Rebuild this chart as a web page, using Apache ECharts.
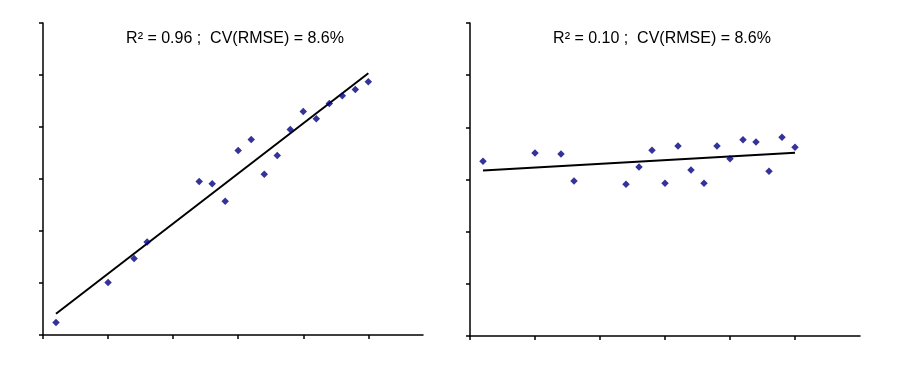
<!DOCTYPE html>
<html>
<head>
<meta charset="utf-8">
<script src="https://cdn.jsdelivr.net/npm/echarts@6/dist/echarts.min.js"></script>
<style>
  html, body { margin: 0; padding: 0; background: #fff; }
  #main { width: 912px; height: 378px; }
</style>
</head>
<body>
<div id="main"></div>
<script>
var chartDom = document.getElementById('main');
var myChart = echarts.init(chartDom);

// shared x positions (same for both panels)
var xValues = [0.2, 1.0, 1.4, 1.6, 2.4, 2.6, 2.8, 3.0, 3.2, 3.4, 3.6, 3.8, 4.0, 4.2, 4.4, 4.6, 4.8, 5.0];
// left panel: good fit
var yLeft = [0.24, 1.01, 1.47, 1.79, 2.95, 2.91, 2.57, 3.55, 3.76, 3.09, 3.45, 3.95, 4.30, 4.16, 4.45, 4.60, 4.72, 4.87];
// right panel: poor fit
var yRight = [3.35, 3.51, 3.49, 2.97, 2.91, 3.24, 3.56, 2.93, 3.64, 3.18, 2.93, 3.64, 3.40, 3.76, 3.72, 3.16, 3.81, 3.62];
var titles = ['R\u00b2 = 0.96 ;  CV(RMSE) = 8.6%', 'R\u00b2 = 0.10 ;  CV(RMSE) = 8.6%'];
var tickValues = [0, 1, 2, 3, 4, 5];

function pairs(xs, ys) {
  return xs.map(function (x, i) { return [x, ys[i]]; });
}

// least squares line through the points, drawn between first and last x
function trend(xs, ys) {
  var n = xs.length, sx = 0, sy = 0, sxx = 0, sxy = 0;
  for (var i = 0; i < n; i++) {
    sx += xs[i]; sy += ys[i]; sxx += xs[i] * xs[i]; sxy += xs[i] * ys[i];
  }
  var b = (n * sxy - sx * sy) / (n * sxx - sx * sx);
  var a = (sy - b * sx) / n;
  var x0 = Math.min.apply(null, xs), x1 = Math.max.apply(null, xs);
  return [[x0, a + b * x0], [x1, a + b * x1]];
}

var axisLine = { lineStyle: { color: '#000', width: 1.5 } };

function xAxisFor(idx, max) {
  return {
    type: 'value', gridIndex: idx, min: 0, max: max, interval: 1,
    axisLine: axisLine,
    axisTick: { customValues: tickValues, length: 4, lineStyle: { color: '#000', width: 1.5 } },
    axisLabel: { show: false },
    splitLine: { show: false }
  };
}

function yAxisFor(idx) {
  return {
    type: 'value', gridIndex: idx, min: 0, max: 6, interval: 1,
    axisLine: { show: true, lineStyle: { color: '#000', width: 1.5 } },
    axisTick: { show: true, length: 4, lineStyle: { color: '#000', width: 1.5 } },
    axisLabel: { show: false },
    splitLine: { show: false }
  };
}

var titleStyle = { fontFamily: 'Liberation Sans', fontSize: 16, fontWeight: 'normal', color: '#000' };

var option = {
  backgroundColor: '#fff',
  animation: false,
  title: [
    { text: titles[0], left: 235, top: 31, textAlign: 'center', textStyle: titleStyle, padding: 0 },
    { text: titles[1], left: 662, top: 31, textAlign: 'center', textStyle: titleStyle, padding: 0 }
  ],
  grid: [
    { left: 43, top: 23, width: 380, height: 312 },
    { left: 470, top: 23, width: 390, height: 313 }
  ],
  xAxis: [xAxisFor(0, 5.84), xAxisFor(1, 6)],
  yAxis: [yAxisFor(0), yAxisFor(1)],
  series: [
    {
      type: 'scatter', xAxisIndex: 0, yAxisIndex: 0,
      data: pairs(xValues, yLeft), symbol: 'diamond', symbolSize: 7.5,
      itemStyle: { color: '#000080' }, z: 3
    },
    {
      type: 'line', xAxisIndex: 0, yAxisIndex: 0,
      data: trend(xValues, yLeft), symbol: 'none',
      lineStyle: { color: '#000', width: 2 }, z: 2
    },
    {
      type: 'scatter', xAxisIndex: 1, yAxisIndex: 1,
      data: pairs(xValues, yRight), symbol: 'diamond', symbolSize: 7.5,
      itemStyle: { color: '#000080' }, z: 3
    },
    {
      type: 'line', xAxisIndex: 1, yAxisIndex: 1,
      data: trend(xValues, yRight), symbol: 'none',
      lineStyle: { color: '#000', width: 2 }, z: 2
    }
  ]
};

myChart.setOption(option);
window.addEventListener('resize', myChart.resize);
</script>
</body>
</html>
